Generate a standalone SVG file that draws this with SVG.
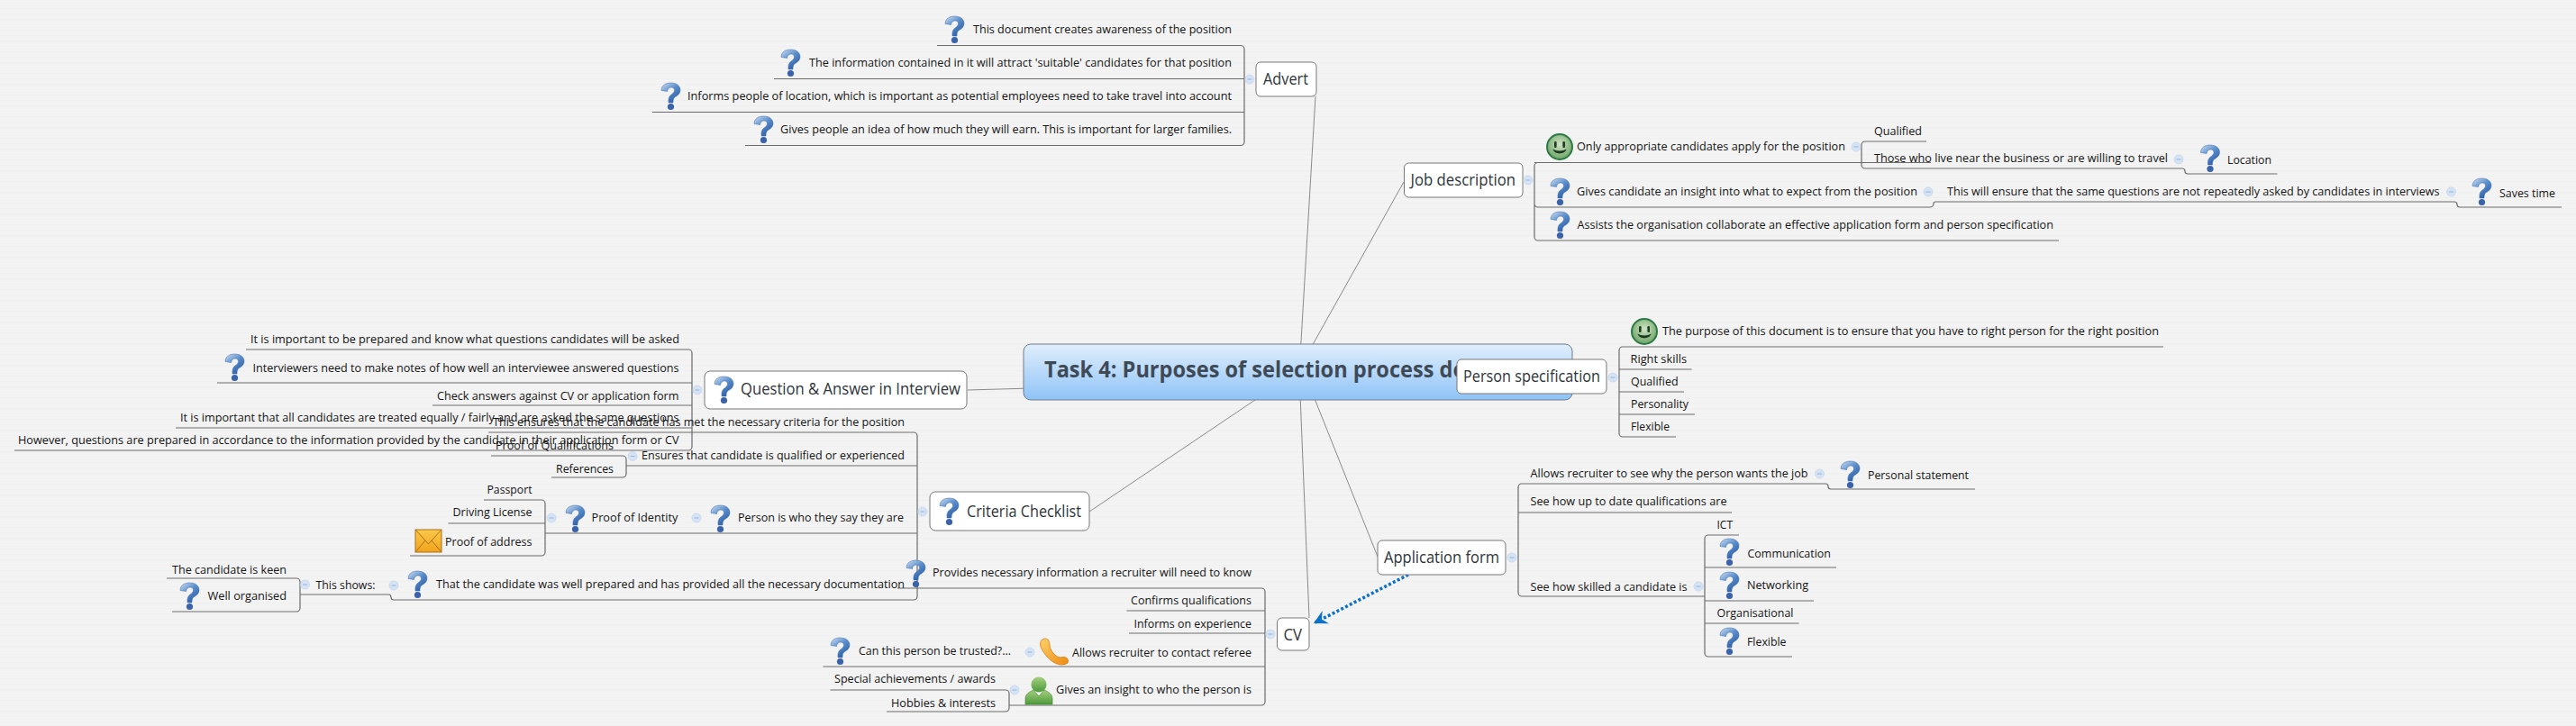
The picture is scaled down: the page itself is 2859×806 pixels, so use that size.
<svg xmlns="http://www.w3.org/2000/svg" width="2859" height="806" viewBox="0 0 2859 806">
<style>
text{font-family:"Open Sans","Noto Sans","Liberation Sans",sans-serif;fill:#141414}
.t{font-size:13px}
.b{font-size:18px;fill:#2f353a}
.c{font-size:25px;font-weight:700;fill:#3f4a57}
.box{fill:#fff;stroke:#787878;stroke-width:1}
.l{fill:none;stroke:#6c6c6c;stroke-width:1.2}
.m{fill:none;stroke:#8a8a8a;stroke-width:1}
</style>
<defs>
<pattern id="bg" width="8" height="6" patternUnits="userSpaceOnUse"><rect width="8" height="6" fill="#f2f3f2"/><rect width="8" height="1" y="3" fill="#eff0ef"/></pattern>
<linearGradient id="cg" x1="0" y1="0" x2="0" y2="1"><stop offset="0" stop-color="#e0eefc"/><stop offset="1" stop-color="#8fc3f7"/></linearGradient>
<linearGradient id="qg" gradientUnits="userSpaceOnUse" x1="1" y1="1" x2="16" y2="22"><stop offset="0" stop-color="#c2d5ee"/><stop offset=".45" stop-color="#5a8ecb"/><stop offset="1" stop-color="#2a5aa5"/></linearGradient>
<radialGradient id="sg" cx=".5" cy=".4" r=".6"><stop offset="0" stop-color="#cfe2c4"/><stop offset="1" stop-color="#6da565"/></radialGradient>
<linearGradient id="eg" x1="0" y1="0" x2="0" y2="1"><stop offset="0" stop-color="#fbc94a"/><stop offset="1" stop-color="#f1a31c"/></linearGradient>
<linearGradient id="pg" x1="0" y1="0" x2="1" y2="1"><stop offset="0" stop-color="#fbd26a"/><stop offset="1" stop-color="#ee8a12"/></linearGradient>
<linearGradient id="gg" x1="0" y1="0" x2="0" y2="1"><stop offset="0" stop-color="#a5cf7c"/><stop offset="1" stop-color="#4d9a3c"/></linearGradient>
<g id="q"><path d="M0 8.5C0 2.5 5 0 10.5 0C17 0 21 3.5 21 8C21 12 18 14 15.5 15.5C13.5 16.8 13 18.5 13 22H8C7.5 17.5 8.5 14.8 11 13C13 11.5 14.5 10.5 14.5 8.3C14.5 6 12.8 5 11 5C8.5 5 7 6.5 6.5 9.5Z" fill="url(#qg)" stroke="#3f6fb3" stroke-width=".5"/><circle cx="10.5" cy="26.5" r="3.6" fill="#3a62ab"/></g>
<g id="s"><circle cx="15" cy="15" r="14" fill="url(#sg)" stroke="#2b7a45" stroke-width="2"/><rect x="9" y="9" width="2.6" height="7" rx="1.2" fill="#1f3a22"/><rect x="18.4" y="9" width="2.6" height="7" rx="1.2" fill="#1f3a22"/><path d="M7.5 17.5C9 24 21 24 22.5 17.5C19 20 11 20 7.5 17.5Z" fill="#1f3a22"/></g>
<g id="o"><circle r="5" fill="#d5e3f5" stroke="#c5d6ee" stroke-width=".8"/><path d="M-2.5 0H2.5" stroke="#96b2dc" stroke-width="1"/></g>
<marker id="ah" markerUnits="userSpaceOnUse" markerWidth="20" markerHeight="18" refX="15" refY="9" orient="auto"><path d="M0 1L15 9L0 17L5 9Z" fill="#0c70c8"/></marker>
</defs>
<rect width="2859" height="806" fill="url(#bg)"/>
<g id="center-connectors" class="m">
<path class="m" d="M1460 107L1442 413"/>
<path class="m" d="M1558 202L1450 395"/>
<path class="m" d="M1074 433L1180 430"/>
<path class="m" d="M1209 568L1393 444"/>
<path class="m" d="M1453 686L1442 413"/>
<path class="m" d="M1529 618L1450 420"/>
</g>
<g id="node-center"><rect x="1136" y="382" width="609" height="62" rx="8" fill="url(#cg)" stroke="#6f7d8c"/><text class="c" x="1159" y="419" textLength="468" lengthAdjust="spacingAndGlyphs">Task 4: Purposes of selection process do</text></g>
<g id="connectors">
<path class="l" d="M1040 50.5H1377a4 4 0 0 1 4 4V157.5a4 4 0 0 1-4 4H827M859 87.5H1381M724 124.5H1381"/>
<path class="l" d="M2143 180.5H1707a4 4 0 0 0-4 4V263a4 4 0 0 0 4 4H2285M1703 226a4 4 0 0 0 4 4H2142a4 4 0 0 0 4-4a2 2 0 0 1 2-2H2724a3 3 0 0 1 3 3a3 3 0 0 0 3 3H2843"/>
<path class="l" d="M2138 157H2070a4 4 0 0 0-4 4V183a4 4 0 0 0 4 4H2422a3 3 0 0 1 3 3a3 3 0 0 0 3 3H2527.5M1703 180.5H2066"/>
<path class="l" d="M2401 385H1801a4 4 0 0 0-4 4V481a4 4 0 0 0 4 4H1860M1797 410H1877.5M1797 435H1869M1797 460H1881"/>
<path class="l" d="M2026 537H1689a4 4 0 0 0-4 4V658a4 4 0 0 0 4 4H1892M2026 537a3 3 0 0 1 3 3a3 3 0 0 0 3 3H2192M1685 569H1922"/>
<path class="l" d="M1930 594H1896a4 4 0 0 0-4 4V725a4 4 0 0 0 4 4H1989M1892 630H2038M1892 667H2013M1892 692H1996.5"/>
<path class="l" d="M273 388H764a4 4 0 0 1 4 4V496a4 4 0 0 1-4 4H16M241 425H768M480 450H768M195 475H768"/>
<path class="l" d="M542 480H1014a4 4 0 0 1 4 4V662a4 4 0 0 1-4 4H437a3 3 0 0 1-3-3a3 3 0 0 0-3-3H333M695 517H1018M605 592H1018"/>
<path class="l" d="M545 506H691a4 4 0 0 1 4 4V526a4 4 0 0 1-4 4H612"/>
<path class="l" d="M537 555H601a4 4 0 0 1 4 4V613a4 4 0 0 1-4 4H455M497.5 581H605"/>
<path class="l" d="M185 642H329a4 4 0 0 1 4 4V675a4 4 0 0 1-4 4H191"/>
<path class="l" d="M996 653H1400a4 4 0 0 1 4 4V779a4 4 0 0 1-4 4H1120M1250.5 678H1404M1253 703H1404M913.5 740H1404"/>
<path class="l" d="M921.5 766H1116a4 4 0 0 1 4 4V786a4 4 0 0 1-4 4H984"/>
<path d="M1563 638L1458 692" fill="none" stroke="#0c70c8" stroke-width="3.5" stroke-dasharray="3 2.4" marker-end="url(#ah)"/>
</g>
<g id="node-advert"><rect class="box" x="1394" y="69" width="67" height="38" rx="5"/><text class="b" x="1402" y="94" textLength="50" lengthAdjust="spacingAndGlyphs">Advert</text><use href="#o" x="1387" y="88"/></g>
<g id="a1"><use href="#q" x="1049" y="18"/><text class="t" x="1080" y="36.5" textLength="287" lengthAdjust="spacingAndGlyphs">This document creates awareness of the position</text></g>
<g id="a2"><use href="#q" x="867" y="55"/><text class="t" x="898" y="73.5" textLength="469" lengthAdjust="spacingAndGlyphs">The information contained in it will attract 'suitable' candidates for that position</text></g>
<g id="a3"><use href="#q" x="734" y="92"/><text class="t" x="763" y="110.5" textLength="604" lengthAdjust="spacingAndGlyphs">Informs people of location, which is important as potential employees need to take travel into account</text></g>
<g id="a4"><use href="#q" x="837" y="129"/><text class="t" x="866" y="147.5" textLength="501" lengthAdjust="spacingAndGlyphs">Gives people an idea of how much they will earn. This is important for larger families.</text></g>

<g id="node-job"><rect class="box" x="1558.5" y="181" width="131.5" height="38" rx="5"/><text class="b" x="1565.5" y="206" textLength="116.5" lengthAdjust="spacingAndGlyphs">Job description</text><use href="#o" x="1696" y="200"/></g>
<g id="j1"><use href="#s" x="1716" y="148"/><text class="t" x="1750" y="167" textLength="298" lengthAdjust="spacingAndGlyphs">Only appropriate candidates apply for the position</text><use href="#o" x="2060" y="163"/></g>
<g id="j1a"><text class="t" x="2080" y="149.5" textLength="53" lengthAdjust="spacingAndGlyphs">Qualified</text></g>
<g id="j1b"><text class="t" x="2080" y="179.5" textLength="326" lengthAdjust="spacingAndGlyphs">Those who live near the business or are willing to travel</text><use href="#o" x="2418" y="177"/></g>
<g id="j1c"><use href="#q" x="2442.5" y="161"/><text class="t" x="2472" y="181.5" textLength="49" lengthAdjust="spacingAndGlyphs">Location</text></g>
<g id="j2"><use href="#q" x="1721" y="198"/><text class="t" x="1750" y="216.5" textLength="378" lengthAdjust="spacingAndGlyphs">Gives candidate an insight into what to expect from the position</text><use href="#o" x="2140" y="213"/></g>
<g id="j2a"><text class="t" x="2161" y="216.5" textLength="546.5" lengthAdjust="spacingAndGlyphs">This will ensure that the same questions are not repeatedly asked by candidates in interviews</text><use href="#o" x="2720.5" y="213"/></g>
<g id="j2b"><use href="#q" x="2744" y="198"/><text class="t" x="2774" y="218.5" textLength="62" lengthAdjust="spacingAndGlyphs">Saves time</text></g>
<g id="j3"><use href="#q" x="1721" y="235"/><text class="t" x="1750.5" y="253.5" textLength="528.5" lengthAdjust="spacingAndGlyphs">Assists the organisation collaborate an effective application form and person specification</text></g>

<g id="node-person"><rect class="box" x="1617" y="399" width="166" height="38" rx="5"/><text class="b" x="1624" y="424" textLength="152" lengthAdjust="spacingAndGlyphs">Person specification</text><use href="#o" x="1790" y="419"/></g>
<g id="p0"><use href="#s" x="1810" y="353"/><text class="t" x="1845" y="371.5" textLength="551" lengthAdjust="spacingAndGlyphs">The purpose of this document is to ensure that you have to right person for the right position</text></g>
<g id="p1"><text class="t" x="1809.5" y="402.5" textLength="62.5" lengthAdjust="spacingAndGlyphs">Right skills</text></g>
<g id="p2"><text class="t" x="1810" y="427.5" textLength="52.5" lengthAdjust="spacingAndGlyphs">Qualified</text></g>
<g id="p3"><text class="t" x="1810" y="452.5" textLength="64" lengthAdjust="spacingAndGlyphs">Personality</text></g>
<g id="p4"><text class="t" x="1810" y="478" textLength="43" lengthAdjust="spacingAndGlyphs">Flexible</text></g>

<g id="node-application"><rect class="box" x="1529" y="600" width="142" height="38" rx="5"/><text class="b" x="1536" y="625" textLength="128" lengthAdjust="spacingAndGlyphs">Application form</text><use href="#o" x="1678" y="619"/></g>
<g id="f1"><text class="t" x="1698.5" y="529.5" textLength="308" lengthAdjust="spacingAndGlyphs">Allows recruiter to see why the person wants the job</text><use href="#o" x="2019.5" y="526"/></g>
<g id="f1a"><use href="#q" x="2043" y="512"/><text class="t" x="2073" y="531.5" textLength="112" lengthAdjust="spacingAndGlyphs">Personal statement</text></g>
<g id="f2"><text class="t" x="1698.5" y="560.5" textLength="218" lengthAdjust="spacingAndGlyphs">See how up to date qualifications are</text></g>
<g id="f3"><text class="t" x="1698.5" y="655.5" textLength="174" lengthAdjust="spacingAndGlyphs">See how skilled a candidate is</text><use href="#o" x="1885" y="651"/></g>
<g id="f3a"><text class="t" x="1905.5" y="586.5" textLength="17.5" lengthAdjust="spacingAndGlyphs">ICT</text></g>
<g id="f3b"><use href="#q" x="1909" y="598"/><text class="t" x="1939.5" y="618.5" textLength="92.5" lengthAdjust="spacingAndGlyphs">Communication</text></g>
<g id="f3c"><use href="#q" x="1909" y="635"/><text class="t" x="1939" y="653.5" textLength="68" lengthAdjust="spacingAndGlyphs">Networking</text></g>
<g id="f3d"><text class="t" x="1905.5" y="684.5" textLength="85" lengthAdjust="spacingAndGlyphs">Organisational</text></g>
<g id="f3e"><use href="#q" x="1909" y="697"/><text class="t" x="1939" y="716.5" textLength="43.5" lengthAdjust="spacingAndGlyphs">Flexible</text></g>

<g id="node-qa"><rect class="box" x="782" y="412" width="291" height="42" rx="6"/><use href="#q" x="793" y="418"/><text class="b" x="822" y="438" textLength="244" lengthAdjust="spacingAndGlyphs">Question &amp; Answer in Interview</text><use href="#o" x="774" y="433"/></g>
<g id="q1"><text class="t" x="278" y="380.5" textLength="476" lengthAdjust="spacingAndGlyphs">It is important to be prepared and know what questions candidates will be asked</text></g>
<g id="q2"><use href="#q" x="250" y="393"/><text class="t" x="280.5" y="412.5" textLength="473" lengthAdjust="spacingAndGlyphs">Interviewers need to make notes of how well an interviewee answered questions</text></g>
<g id="q3"><text class="t" x="485" y="443.5" textLength="268.5" lengthAdjust="spacingAndGlyphs">Check answers against CV or application form</text></g>
<g id="q4"><text class="t" x="200" y="467.5" textLength="553.5" lengthAdjust="spacingAndGlyphs">It is important that all candidates are treated equally / fairly and are asked the same questions</text></g>
<g id="q5"><text class="t" x="20" y="492.5" textLength="733.5" lengthAdjust="spacingAndGlyphs">However, questions are prepared in accordance to the information provided by the candidate in their application form or CV</text></g>

<g id="node-criteria"><rect class="box" x="1032" y="546" width="177" height="43" rx="6"/><use href="#q" x="1043" y="553"/><text class="b" x="1073" y="574" textLength="127" lengthAdjust="spacingAndGlyphs">Criteria Checklist</text><use href="#o" x="1024" y="568"/></g>
<g id="c1"><text class="t" x="547" y="472.5" textLength="457" lengthAdjust="spacingAndGlyphs">This ensures that the candidate has met the necessary criteria for the position</text></g>
<g id="c2"><text class="t" x="712" y="509.5" textLength="292" lengthAdjust="spacingAndGlyphs">Ensures that candidate is qualified or experienced</text><use href="#o" x="702" y="506.5"/></g>
<g id="c2a"><text class="t" x="550" y="498.5" textLength="131" lengthAdjust="spacingAndGlyphs">Proof of Qualifications</text></g>
<g id="c2b"><text class="t" x="617" y="524.5" textLength="64" lengthAdjust="spacingAndGlyphs">References</text></g>
<g id="c3"><use href="#q" x="789" y="561"/><text class="t" x="819" y="578.5" textLength="184" lengthAdjust="spacingAndGlyphs">Person is who they say they are</text><use href="#o" x="773" y="575"/></g>
<g id="c3a"><use href="#q" x="628" y="561"/><text class="t" x="656.5" y="578.5" textLength="96" lengthAdjust="spacingAndGlyphs">Proof of Identity</text><use href="#o" x="612" y="575"/></g>
<g id="c3b"><text class="t" x="540.5" y="547.5" textLength="50" lengthAdjust="spacingAndGlyphs">Passport</text></g>
<g id="c3c"><text class="t" x="502.5" y="572.5" textLength="88" lengthAdjust="spacingAndGlyphs">Driving License</text></g>
<g id="c3d"><rect x="461" y="588" width="29" height="25" fill="url(#eg)" stroke="#a8701a"/><path d="M461 588L475.5 604L490 588M461 613L472 600M490 613L479 600" fill="none" stroke="#a8701a"/><text class="t" x="494" y="605.5" textLength="96.5" lengthAdjust="spacingAndGlyphs">Proof of address</text></g>
<g id="c4"><use href="#q" x="453" y="634"/><text class="t" x="484" y="652.5" textLength="520" lengthAdjust="spacingAndGlyphs">That the candidate was well prepared and has provided all the necessary documentation</text><use href="#o" x="437" y="650"/></g>
<g id="c4a"><text class="t" x="350.5" y="653.5" textLength="66" lengthAdjust="spacingAndGlyphs">This shows:</text><use href="#o" x="338.5" y="649"/></g>
<g id="c4b"><text class="t" x="191" y="636.5" textLength="127" lengthAdjust="spacingAndGlyphs">The candidate is keen</text></g>
<g id="c4c"><use href="#q" x="200" y="647"/><text class="t" x="230.5" y="665.5" textLength="87.5" lengthAdjust="spacingAndGlyphs">Well organised</text></g>

<g id="node-cv"><rect class="box" x="1417.5" y="686" width="35.5" height="36" rx="5"/><text class="b" x="1424.5" y="711" textLength="20.5" lengthAdjust="spacingAndGlyphs">CV</text><use href="#o" x="1410" y="704"/></g>
<g id="v0"><use href="#q" x="1006" y="622"/><text class="t" x="1035" y="639.5" textLength="354" lengthAdjust="spacingAndGlyphs">Provides necessary information a recruiter will need to know</text></g>
<g id="v1"><text class="t" x="1255" y="670.5" textLength="134" lengthAdjust="spacingAndGlyphs">Confirms qualifications</text></g>
<g id="v2"><text class="t" x="1258.5" y="696.5" textLength="130.5" lengthAdjust="spacingAndGlyphs">Informs on experience</text></g>
<g id="v3"><path d="M1157 710C1162 707 1165 711 1165 716C1165 722 1172 730 1177 730C1182 728 1187 731 1185 736C1178 741 1168 736 1162 729C1157 723 1151 714 1157 710Z" fill="url(#pg)" stroke="#d97c10" stroke-width=".8"/><text class="t" x="1190" y="728.5" textLength="199" lengthAdjust="spacingAndGlyphs">Allows recruiter to contact referee</text><use href="#o" x="1143" y="724"/></g>
<g id="v3a"><use href="#q" x="922" y="708"/><text class="t" x="953" y="726.5" textLength="169" lengthAdjust="spacingAndGlyphs">Can this person be trusted?...</text></g>
<g id="v4"><circle cx="1153" cy="760" r="8.5" fill="url(#gg)"/><path d="M1138 782V776C1138 770 1143 768 1147 766L1153 773L1159 766C1163 768 1168 770 1168 776V782Z" fill="url(#gg)" stroke="#3d8430" stroke-width=".6"/><text class="t" x="1172" y="769.5" textLength="217" lengthAdjust="spacingAndGlyphs">Gives an insight to who the person is</text><use href="#o" x="1126" y="766"/></g>
<g id="v4a"><text class="t" x="926" y="757.5" textLength="179" lengthAdjust="spacingAndGlyphs">Special achievements / awards</text></g>
<g id="v4b"><text class="t" x="989" y="784.5" textLength="116" lengthAdjust="spacingAndGlyphs">Hobbies &amp; interests</text></g>
</svg>
